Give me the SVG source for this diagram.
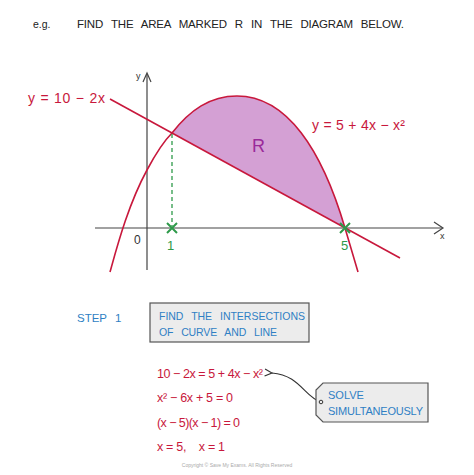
<svg xmlns="http://www.w3.org/2000/svg" width="474" height="475" viewBox="0 0 474 475">
<style>
text{font-family:"Liberation Sans","DejaVu Sans",sans-serif}
.t{font-size:11.5px;fill:#222;word-spacing:5px}
.red{fill:#c8183c}
.blue{fill:#2f7fc4}
.green{fill:#2e9a4a}
.curve{fill:none;stroke:#c8183c;stroke-width:1.6}
.axis{fill:none;stroke:#444;stroke-width:1.2}
.eq{font-size:12.5px}
.bx{font-size:10.5px;word-spacing:5px}
</style>
<defs>
<marker id="ah" viewBox="0 0 10 10" refX="1" refY="5" markerWidth="9" markerHeight="9" orient="auto-start-reverse" markerUnits="userSpaceOnUse">
<path d="M9,1 L1,5 L9,9" fill="none" stroke="#333" stroke-width="1.3"/>
</marker>
</defs>
<rect width="474" height="475" fill="#fff"/>
<g id="title">
<text class="t" x="33" y="28" style="font-size:10.5px">e.g.</text>
<text class="t" x="77" y="28" textLength="327">FIND THE AREA MARKED R IN THE DIAGRAM BELOW.</text>
</g>
<g id="region">
<path d="M172,133 C190,110 210,96 237,96 C287,96 322,150 345,228 Z" fill="#d4a0d4"/>
</g>
<g id="axes">
<line class="axis" x1="95" y1="228" x2="442" y2="228"/>
<path d="M434,222 L443,228 L434,234" class="axis"/>
<line class="axis" x1="147" y1="270" x2="147" y2="74"/>
<path d="M143,82 L147,73 L151,82" class="axis"/>
<text x="136" y="79" style="font-size:9px;fill:#333">y</text>
<text x="440" y="239" style="font-size:9px;fill:#333">x</text>
<text x="134" y="244" style="font-size:12px;fill:#333">0</text>
</g>
<g id="curves">
<path class="curve" d="M110,272 C117,247 128,205 147,170 C155,155 162,143 172,133 C190,110 210,96 237,96 C287,96 322,150 345,228 C349,242 354,258 358,272"/>
<line class="curve" x1="110" y1="99" x2="400" y2="258"/>
<text class="red" x="28" y="103" textLength="77" style="font-size:14px">y = 10 − 2x</text>
<text class="red" x="312" y="130" textLength="93" style="font-size:14px">y = 5 + 4x − x²</text>
<text x="252" y="152" style="font-size:18px;fill:#9a2a9a">R</text>
</g>
<g id="markers">
<line x1="172" y1="134" x2="172" y2="226" stroke="#2e9a4a" stroke-width="1.3" stroke-dasharray="4,3"/>
<path d="M167,223 L177,233 M177,223 L167,233" stroke="#2e9a4a" stroke-width="2" fill="none"/>
<path d="M340,223 L350,233 M350,223 L340,233" stroke="#2e9a4a" stroke-width="2" fill="none"/>
<text class="green" x="167" y="250" style="font-size:13px">1</text>
<text class="green" x="341" y="250" style="font-size:13px">5</text>
</g>
<g id="step1">
<text class="blue" x="77" y="322" style="font-size:11.5px;word-spacing:5px">STEP 1</text>
</g>
<g id="box1">
<rect x="150" y="303" width="159" height="39" fill="#ececec" stroke="#555" stroke-width="1.2"/>
<text class="blue bx" x="159" y="320" textLength="146">FIND THE INTERSECTIONS</text>
<text class="blue bx" x="159" y="336" textLength="118">OF CURVE AND LINE</text>
</g>
<g id="equations">
<text class="red eq" x="157" y="378" textLength="106">10 − 2x = 5 + 4x − x²</text>
<text class="red eq" x="157" y="402" textLength="76">x² − 6x + 5 = 0</text>
<text class="red eq" x="157" y="427" textLength="83">(x − 5)(x − 1) = 0</text>
<text class="red eq" x="157" y="451" textLength="68" xml:space="preserve">x = 5,    x = 1</text>
</g>
<g id="connectors">
<path d="M321,402 C305,398 300,375 272,373" fill="none" stroke="#333" stroke-width="1.1" marker-end="url(#ah)"/>
</g>
<g id="tag">
<path d="M323,383 L428,383 L428,422 L323,422 L316,415 L316,390 Z" fill="#ececec" stroke="#555" stroke-width="1.2"/>
<circle cx="321" cy="402" r="1.8" fill="none" stroke="#333" stroke-width="1"/>
<text class="blue" x="328" y="399" style="font-size:11px">SOLVE</text>
<text class="blue" x="328" y="415" textLength="95" style="font-size:11px">SIMULTANEOUSLY</text>
</g>
<text x="237" y="467" text-anchor="middle" style="font-size:5px;fill:#aaa">Copyright © Save My Exams. All Rights Reserved</text>
</svg>
